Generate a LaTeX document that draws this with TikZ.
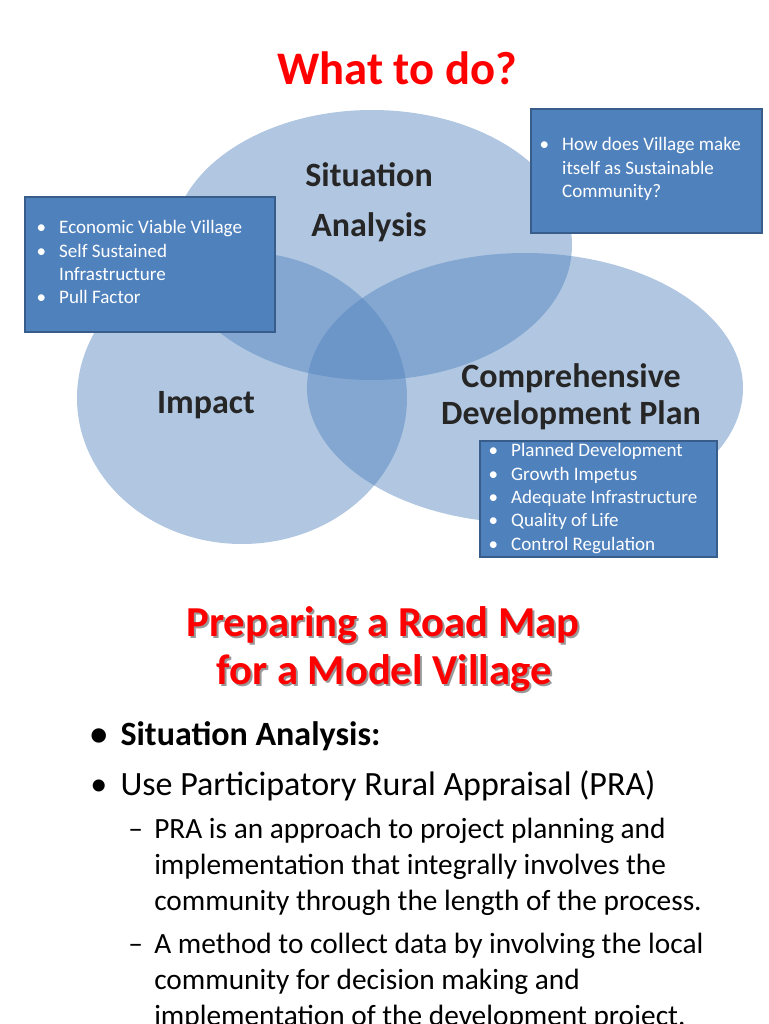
\documentclass[tikz,border=0pt]{standalone}
\usepackage{fontspec}
\setmainfont{Carlito}
\newcommand{\bb}{\makebox[17pt][l]{\textbullet}}
\newcommand{\nb}{\makebox[17pt][l]{}}
\begin{document}
\begin{tikzpicture}[x=0.75pt,y=-0.75pt,
  ell/.style={fill={rgb,255:red,79;green,129;blue,189},fill opacity=0.45},
  box/.style={fill={rgb,255:red,79;green,129;blue,189},draw={rgb,255:red,56;green,93;blue,138},line width=0.8pt,text=white,font=\fontsize{14.3}{17.5}\selectfont,align=left,anchor=north west,inner sep=0pt},
  lbl/.style={font=\fontsize{25.5}{30}\selectfont\bfseries,text=black!85},
  ttl/.style={font=\fontsize{32}{36}\selectfont\bfseries,text={rgb,255:red,255;green,0;blue,0}},
  body/.style={font=\fontsize{22}{27}\selectfont,anchor=base west,inner sep=0pt,text=black}]
\useasboundingbox (0,0) rectangle (768,1024);
\clip (0,0) rectangle (768,1024);
\node[ttl,font=\fontsize{35}{40}\selectfont\bfseries] (t1) at (397,68) {What to do?};
\fill[ell] (372,245) ellipse [x radius=200,y radius=135];
\fill[ell] (242,398) ellipse [x radius=165,y radius=146];
\fill[ell] (525,388) ellipse [x radius=218,y radius=135];
\node[lbl] (s1) at (369,175) {Situation};
\node[lbl] (s2) at (369,227) {Analysis};
\node[lbl] (imp) at (206,405) {Impact};
\node[lbl] (c1) at (571,378) {Comprehensive};
\node[lbl] (c2) at (571,415) {Development Plan};
\draw[box] (25,197) rectangle (275,332);
\node[box,draw=none,fill=none] (b1) at (36,220) {\bb Economic Viable Village\\\bb Self Sustained\\\nb Infrastructure\\\bb Pull Factor};
\draw[box] (531,109) rectangle (762,233);
\node[box,draw=none,fill=none] (b2) at (539,137) {\bb How does Village make\\\nb itself as Sustainable\\\nb Community?};
\draw[box] (480,441) rectangle (717,557);
\node[box,draw=none,fill=none] (b3) at (488,443) {\bb Planned Development\\\bb Growth Impetus\\\bb Adequate Infrastructure\\\bb Quality of Life\\\bb Control Regulation};
\node[ttl,text=black!40] at (385,627) {Preparing a Road Map};
\node[ttl,text=black!40] at (386,675) {for a Model Village};
\node[ttl] (t2) at (383,625) {Preparing a Road Map};
\node[ttl] (t3) at (384,673) {for a Model Village};
\node[body,font=\fontsize{25.5}{30}\selectfont\bfseries] (p1) at (90,745) {\textbullet\hspace{10pt}Situation Analysis:};
\node[body,font=\fontsize{25.5}{30}\selectfont] (p2) at (90,795) {\textbullet\hspace{10pt}Use Participatory Rural Appraisal (PRA)};
\node[body] at (128,838) {--};
\node[body] (l1) at (154,838) {PRA is an approach to project planning and};
\node[body] (l2) at (154,874) {implementation that integrally involves the};
\node[body] (l3) at (154,910) {community through the length of the process.};
\node[body] at (128,953) {--};
\node[body] (l4) at (154,953) {A method to collect data by involving the local};
\node[body] (l5) at (154,989) {community for decision making and};
\node[body] (l6) at (154,1025) {implementation of the development project.};
\end{tikzpicture}
\end{document}
